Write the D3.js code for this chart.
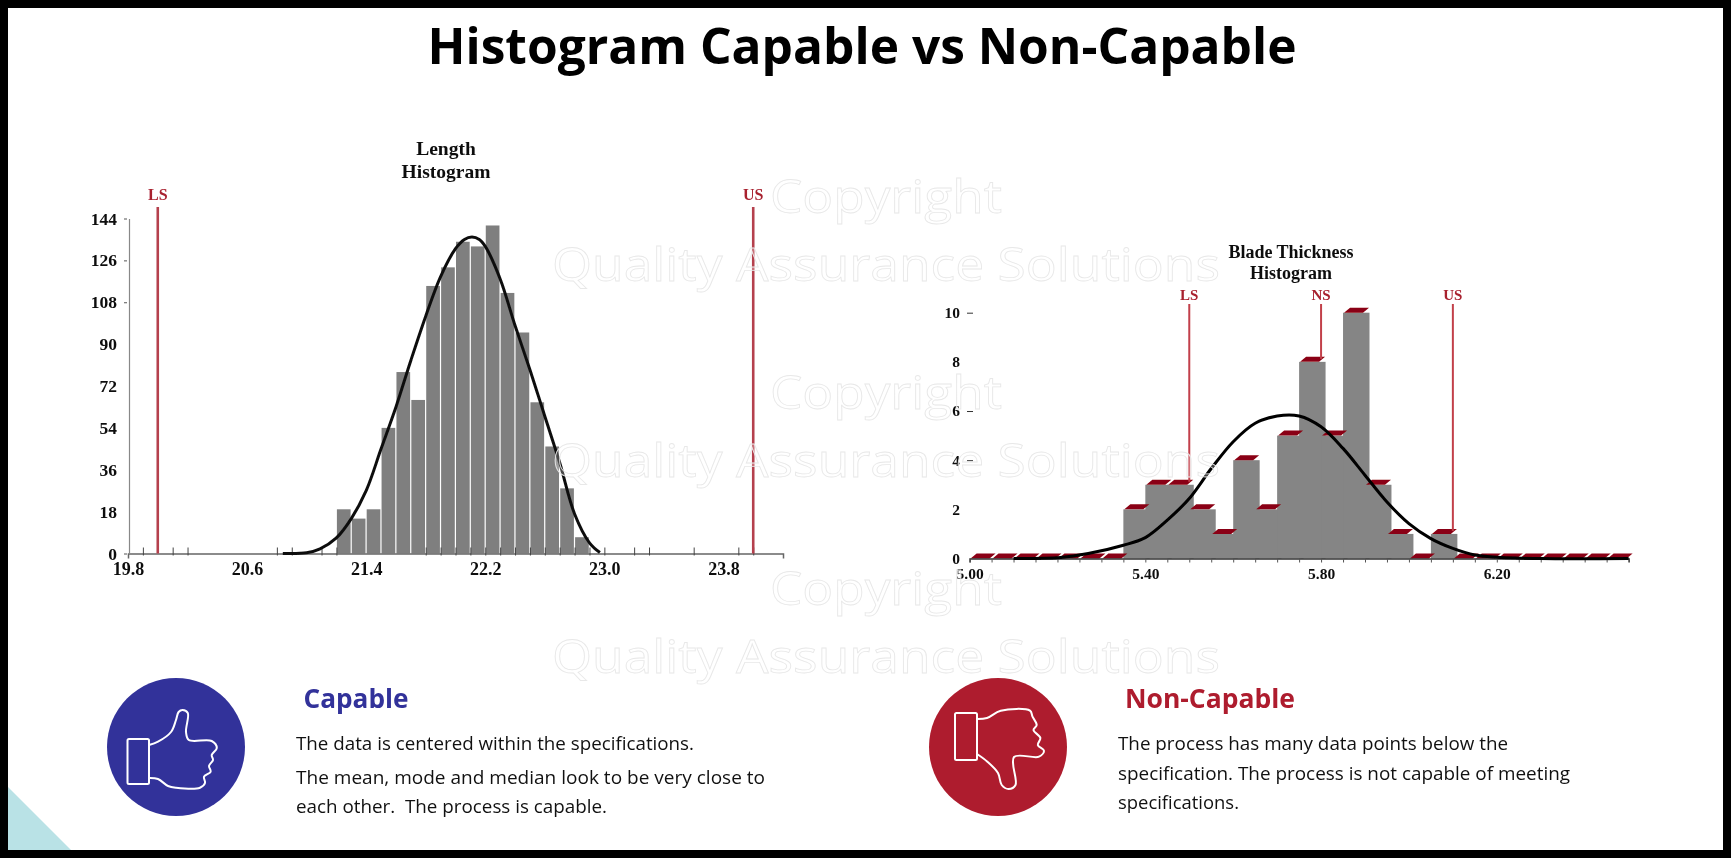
<!DOCTYPE html>
<html>
<head>
<meta charset="utf-8">
<script src="https://cdn.jsdelivr.net/npm/d3@7"></script>
<style>
  html, body { margin: 0; padding: 0; background: #000; }
  svg { display: block; }
  .hist text { font-family: "Liberation Serif", serif; font-weight: 700; fill: #111; }
  .hist text.spec-label { fill: #a8202f; }
  .watermark text { font-family: "Open Sans", sans-serif; fill: #fff; fill-opacity: 0.25; stroke: #e8e8e8; stroke-width: 0.8; }
  .note { font-family: "Open Sans", sans-serif; fill: #111; }
  .note-head { font-family: "Open Sans", sans-serif; font-weight: 700; }
</style>
</head>
<body>
<svg id="chart" width="1731" height="858"></svg>
<script>
// Length histogram (capable)
const lengthBins = [21.2, 21.3, 21.4, 21.5, 21.6, 21.7, 21.8, 21.9, 22.0, 22.1, 22.2, 22.3, 22.4, 22.5, 22.6, 22.7, 22.8];
const lengthCounts = [19, 15, 19, 54, 78, 66, 115, 123, 134, 132, 141, 112, 95, 65, 46, 28, 7];
const lengthCurveX = [20.84, 21.0, 21.09, 21.2, 21.3, 21.4, 21.5, 21.6, 21.7, 21.8, 21.9, 22.0, 22.06, 22.11, 22.16, 22.2, 22.3, 22.4, 22.5, 22.6, 22.7, 22.8, 22.9, 22.97];
const lengthCurveY = [0, 0.3, 2, 6.7, 15, 27, 45, 63, 83, 102, 119, 131, 135, 136, 135, 132, 118, 98, 79, 59, 39, 17, 4.6, 0.4];
const lengthXLabels = [19.8, 20.6, 21.4, 22.2, 23.0, 23.8];
const lengthXTicks = [19.9, 20.1, 20.2, 20.8, 20.9, 21.1, 21.2, 21.8, 21.9, 22.0, 22.1, 22.2, 22.3, 22.4, 22.5, 22.6, 22.7, 22.8, 22.9, 23.0, 23.2, 23.3, 23.6, 23.9, 24.0];
const lengthYLabels = [0, 18, 36, 54, 72, 90, 108, 126, 144];
const lengthYMarked = [0, 108, 126, 144];
const lengthSpecs = ['LS', 'US'];
const lengthSpecValues = [20.0, 24.0];

// Blade thickness histogram (non-capable)
const bladeBins = [5.00, 5.05, 5.10, 5.15, 5.20, 5.25, 5.30, 5.35, 5.40, 5.45, 5.50, 5.55, 5.60, 5.65, 5.70, 5.75, 5.80, 5.85, 5.90, 5.95, 6.00, 6.05, 6.10, 6.15, 6.20, 6.25, 6.30, 6.35, 6.40, 6.45];
const bladeCounts = [0, 0, 0, 0, 0, 0, 0, 2, 3, 3, 2, 1, 4, 2, 5, 8, 5, 10, 3, 1, 0, 1, 0, 0, 0, 0, 0, 0, 0, 0];
const bladeCurveX = [5.10, 5.207, 5.27, 5.35, 5.40, 5.45, 5.50, 5.55, 5.60, 5.65, 5.70, 5.75, 5.80, 5.85, 5.90, 5.95, 6.00, 6.05, 6.10, 6.15, 6.20, 6.30, 6.50];
const bladeCurveY = [0, 0.04, 0.2, 0.54, 0.85, 1.56, 2.44, 3.66, 4.75, 5.5, 5.8, 5.8, 5.36, 4.48, 3.39, 2.3, 1.42, 0.81, 0.41, 0.14, 0.05, 0, 0];
const bladeXLabels = [5.00, 5.40, 5.80, 6.20];
const bladeYLabels = [0, 2, 4, 6, 8, 10];
const bladeYMarked = [4, 6, 10];
const bladeSpecs = ['LS', 'NS', 'US'];
const bladeSpecValues = [5.50, 5.80, 6.10];
const bladeSpecTops = [3, 8, 1];

const pageTitle = 'Histogram Capable vs Non-Capable';
const capableLines = ['The data is centered within the specifications.', 'The mean, mode and median look to be very close to', 'each other.  The process is capable.'];
const capableWidths = [398, 469, 311];
const nonCapableLines = ['The process has many data points below the', 'specification. The process is not capable of meeting', 'specifications.'];
const nonCapableWidths = [390, 452, 121];

const svg = d3.select('#chart');

// soft edge, the source picture is a blurry screenshot
svg.append('defs').append('filter').attr('id', 'soft')
  .attr('filterUnits', 'userSpaceOnUse')
  .attr('x', 0).attr('y', 0).attr('width', 1731).attr('height', 858)
  .append('feGaussianBlur').attr('stdDeviation', 0.55);

// Frame
svg.append('rect').attr('width', 1731).attr('height', 858).attr('fill', '#000');
svg.append('rect').attr('x', 8).attr('y', 8).attr('width', 1715).attr('height', 842).attr('fill', '#fff');
svg.append('path').attr('d', 'M8,787L71,850L8,850Z').attr('fill', '#b9e2e6');

svg.append('text')
  .attr('x', 862).attr('y', 64)
  .attr('text-anchor', 'middle')
  .attr('font-family', '"Open Sans", sans-serif')
  .attr('font-weight', 700)
  .attr('font-size', 50)
  .attr('textLength', 869).attr('lengthAdjust', 'spacingAndGlyphs')
  .attr('fill', '#000')
  .text(pageTitle);

// Left chart
const leftG = svg.append('g').attr('class', 'hist').attr('filter', 'url(#soft)');
const xL = d3.scaleLinear().domain([19.8, 24.2]).range([128, 783]);
const yL = d3.scaleLinear().domain([0, 144]).range([553.5, 218.5]);
const curveL = d3.line().x(i => xL(lengthCurveX[i])).y(i => yL(lengthCurveY[i])).curve(d3.curveCatmullRom);

leftG.selectAll('rect.bar').data(lengthBins).join('rect')
  .attr('class', 'bar')
  .attr('x', d => xL(d) + 0.5)
  .attr('y', (d, i) => yL(lengthCounts[i]))
  .attr('width', xL(21.3) - xL(21.2) - 1.2)
  .attr('height', (d, i) => yL(0) - yL(lengthCounts[i]))
  .attr('fill', '#7f7f7f');

const axL = leftG.append('g').attr('transform', `translate(0,${yL(0)})`)
  .call(d3.axisBottom(xL).tickValues(lengthXTicks).tickSize(5).tickFormat(''));
axL.selectAll('line').attr('transform', 'translate(0,-6)').attr('y2', 8).attr('stroke', '#444');
axL.select('.domain').attr('stroke', '#666').attr('stroke-width', 1.5);

const axL2 = leftG.append('g').attr('transform', `translate(0,${yL(0)})`)
  .call(d3.axisBottom(xL).tickValues(lengthXLabels).tickSize(0).tickPadding(9).tickFormat(d3.format('.1f')));
axL2.select('.domain').remove();
axL2.selectAll('text').attr('font-size', 18);

const ayL = leftG.append('g').attr('transform', `translate(${xL(19.8) + 1},0)`)
  .call(d3.axisLeft(yL).tickValues(lengthYLabels).tickSize(5).tickPadding(7).tickSizeOuter(0));
ayL.select('.domain').attr('stroke', '#888').attr('stroke-width', 1.2);
ayL.selectAll('.tick').filter(d => !lengthYMarked.includes(d)).select('line').remove();
ayL.selectAll('line').attr('stroke', '#555').attr('x2', 3).attr('transform', 'translate(-5,0)');
ayL.selectAll('text').attr('font-size', 17.5);

leftG.selectAll('line.spec').data(lengthSpecs).join('line')
  .attr('class', 'spec')
  .attr('x1', (d, i) => xL(lengthSpecValues[i])).attr('x2', (d, i) => xL(lengthSpecValues[i]))
  .attr('y1', 207).attr('y2', yL(0))
  .attr('stroke', '#b5404d').attr('stroke-width', 2.6);
leftG.selectAll('text.spec-label').data(lengthSpecs).join('text')
  .attr('class', 'spec-label')
  .attr('x', (d, i) => xL(lengthSpecValues[i])).attr('y', 200)
  .attr('text-anchor', 'middle').attr('font-size', 16)
  .text(d => d);

leftG.append('path')
  .attr('d', curveL(d3.range(lengthCurveX.length)))
  .attr('fill', 'none').attr('stroke', '#111').attr('stroke-width', 3);

leftG.selectAll('text.chart-title').data(['Length', 'Histogram']).join('text')
  .attr('class', 'chart-title')
  .attr('x', 446).attr('y', (d, i) => 155 + i * 23)
  .attr('text-anchor', 'middle').attr('font-size', 19.5)
  .text(d => d);

// Right chart
const rightG = svg.append('g').attr('class', 'hist').attr('filter', 'url(#soft)');
const xR = d3.scaleLinear().domain([5.0, 6.5]).range([969.6, 1628.6]);
const yR = d3.scaleLinear().domain([0, 10]).range([558.5, 312.7]);
const bw = xR(5.05) - xR(5.0);
const curveR = d3.line().x(i => xR(bladeCurveX[i])).y(i => yR(bladeCurveY[i])).curve(d3.curveCatmullRom);

rightG.selectAll('rect.bar').data(bladeBins).join('rect')
  .attr('class', 'bar')
  .attr('x', d => xR(d))
  .attr('y', (d, i) => yR(bladeCounts[i]))
  .attr('width', (d, i) => bladeCounts[i] ? bw + 4.5 : 0)
  .attr('height', (d, i) => yR(0) - yR(bladeCounts[i]))
  .attr('fill', '#858585');

// red top face of each bar
rightG.selectAll('path.cap').data(bladeBins).join('path')
  .attr('class', 'cap')
  .attr('d', (d, i) => {
    const x = xR(d), y = yR(bladeCounts[i]);
    return d3.line()([[x + 1, y], [x + bw - 2, y], [x + bw + 4, y - 5], [x + 7, y - 5]]) + 'Z';
  })
  .attr('fill', '#8a0612');

const axR = rightG.append('g').attr('transform', `translate(0,${yR(0)})`)
  .call(d3.axisBottom(xR).tickValues(bladeBins).tickSize(4).tickFormat(''));
axR.selectAll('line').attr('stroke', '#555');
axR.select('.domain').attr('stroke', '#333').attr('stroke-width', 1.5);

const axR2 = rightG.append('g').attr('transform', `translate(0,${yR(0)})`)
  .call(d3.axisBottom(xR).tickValues(bladeXLabels).tickSize(0).tickPadding(9).tickFormat(d3.format('.2f')));
axR2.select('.domain').remove();
axR2.selectAll('text').attr('font-size', 15.5);

const ayR = rightG.append('g').attr('transform', 'translate(967,0)')
  .call(d3.axisLeft(yR).tickValues(bladeYLabels).tickSize(0).tickPadding(7));
ayR.select('.domain').remove();
ayR.selectAll('text').attr('font-size', 15.5);
ayR.selectAll('.tick').filter(d => bladeYMarked.includes(d)).select('line')
  .attr('x1', 0).attr('x2', 6).attr('stroke', '#333');

rightG.selectAll('line.spec').data(bladeSpecs).join('line')
  .attr('class', 'spec')
  .attr('x1', (d, i) => xR(bladeSpecValues[i])).attr('x2', (d, i) => xR(bladeSpecValues[i]))
  .attr('y1', 304).attr('y2', (d, i) => yR(bladeSpecTops[i]) - 3)
  .attr('stroke', '#c23f4a').attr('stroke-width', 2);
rightG.selectAll('text.spec-label').data(bladeSpecs).join('text')
  .attr('class', 'spec-label')
  .attr('x', (d, i) => xR(bladeSpecValues[i])).attr('y', 300)
  .attr('text-anchor', 'middle').attr('font-size', 15)
  .text(d => d);

rightG.append('path')
  .attr('d', curveR(d3.range(bladeCurveX.length)))
  .attr('fill', 'none').attr('stroke', '#000').attr('stroke-width', 3);

rightG.selectAll('text.chart-title').data(['Blade Thickness', 'Histogram']).join('text')
  .attr('class', 'chart-title')
  .attr('x', 1291).attr('y', (d, i) => 258 + i * 21)
  .attr('text-anchor', 'middle').attr('font-size', 18)
  .text(d => d);

// Watermark, repeated down the page, sits over the charts
const wm = svg.append('g').attr('class', 'watermark');
[213, 409, 605].forEach(base => {
  wm.append('text').attr('x', 886).attr('y', base)
    .attr('text-anchor', 'middle').attr('font-size', 46)
    .attr('textLength', 232).attr('lengthAdjust', 'spacingAndGlyphs')
    .text('Copyright');
  wm.append('text').attr('x', 886).attr('y', base + 68)
    .attr('text-anchor', 'middle').attr('font-size', 46)
    .attr('textLength', 668).attr('lengthAdjust', 'spacingAndGlyphs')
    .text('Quality Assurance Solutions');
});

// Notes under the charts
const handLine = d3.line().curve(d3.curveCatmullRom.alpha(0.5));

function note(cx, color, cuff, hand, headX, head, headW, textX, lines, widths, bases) {
  svg.append('circle').attr('cx', cx).attr('cy', 747).attr('r', 69).attr('fill', color);
  svg.append('path').attr('d', handLine(hand))
    .attr('fill', 'none').attr('stroke', '#fff').attr('stroke-width', 2);
  svg.append('rect').attr('x', cuff[0]).attr('y', cuff[1]).attr('width', cuff[2]).attr('height', cuff[3])
    .attr('rx', 1.5)
    .attr('fill', 'none').attr('stroke', '#fff').attr('stroke-width', 2);
  svg.append('text').attr('class', 'note-head')
    .attr('x', headX).attr('y', 708).attr('font-size', 27).attr('fill', color)
    .attr('textLength', headW).attr('lengthAdjust', 'spacingAndGlyphs')
    .text(head);
  svg.selectAll(null).data(lines).join('text')
    .attr('class', 'note')
    .attr('x', textX).attr('y', (d, i) => bases[i])
    .attr('font-size', 19)
    .style('white-space', 'pre')
    .attr('textLength', (d, i) => widths[i]).attr('lengthAdjust', 'spacingAndGlyphs')
    .text(d => d);
}

note(176, '#32329a', [127.5, 739, 21.5, 45],
  [[149, 745], [158, 741.7], [171, 732], [176, 720], [178.6, 712], [182.6, 710], [187.8, 713], [186, 732], [188.8, 740], [211.7, 741], [216.8, 748], [211.7, 755], [213, 760], [209, 766], [210.7, 771.7], [204, 776.7], [205, 783], [200, 787.7], [176, 787.7], [168, 786], [158, 779], [149, 778]],
  303.5, 'Capable', 105, 296, capableLines, capableWidths, [750, 784, 813]);

note(998, '#ae1c2e', [955, 713, 22, 47],
  [[977, 719], [987, 718], [1000.7, 710.7], [1030, 710.7], [1032.5, 716.7], [1036.7, 725], [1033.5, 730], [1040.4, 738], [1037.8, 745], [1044, 750.7], [1039, 756.7], [1014, 757], [1015.5, 785], [1008.6, 789], [1001.7, 785], [998, 773], [987.4, 761.7], [977, 754]],
  1125, 'Non-Capable', 170, 1118, nonCapableLines, nonCapableWidths, [750, 780, 809]);
</script>
</body>
</html>
